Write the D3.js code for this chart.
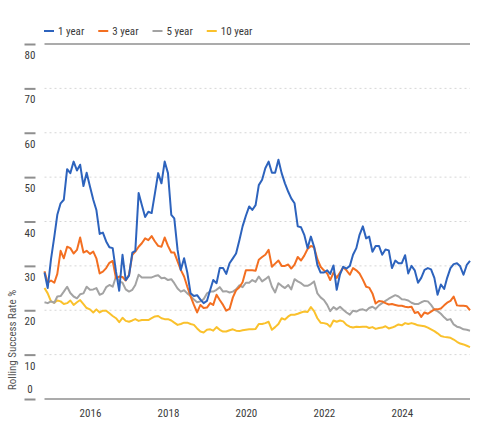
<!DOCTYPE html>
<html>
<head>
<meta charset="utf-8">
<script src="https://cdn.jsdelivr.net/npm/d3@7"></script>
<style>
    body { margin: 0; background: #fff; }
    svg text { font-family: "Liberation Sans Narrow", "Roboto Condensed", "DejaVu Sans Condensed", sans-serif; font-size: 11px; fill: #3a3a3a; }
</style>
</head>
<body>
<svg id="chart"></svg>
<script>
// monthly observations, first one is Nov 2014
const startMonth = new Date(2014, 10, 1);

const seriesNames = ["1 year", "3 year", "5 year", "10 year"];
const seriesColors = ["#2d63bd", "#f36f21", "#a3a3a3", "#fac12c"];

const oneYear = [
    28.5, 25.0, 31.5, 36.6, 41.5, 44.1, 44.9, 51.8, 50.9, 53.5,
    51.5, 52.8, 48.0, 51.0, 47.9, 44.9, 42.6, 37.2, 37.5, 35.5,
    34.2, 34.0, 28.7, 24.4, 32.5, 26.8, 27.8, 33.0, 33.4, 46.4,
    43.7, 41.0, 42.2, 41.9, 46.4, 50.9, 48.6, 53.5, 50.9, 41.5,
    40.7, 33.6, 29.1, 31.7, 28.5, 23.8, 23.2, 23.4, 22.4, 21.6,
    22.1, 24.6, 26.8, 26.1, 29.5, 29.5, 28.2, 30.6, 31.7, 32.8,
    35.8, 38.9, 41.3, 43.4, 42.6, 43.7, 48.2, 49.4, 52.0, 53.5,
    51.0, 51.0, 53.9, 50.9, 48.6, 46.7, 45.2, 44.1, 38.9, 38.7,
    37.0, 34.0, 36.6, 34.3, 30.2, 28.5, 28.5, 29.0, 28.2, 30.1,
    24.6, 28.1, 29.8, 29.4, 30.0, 32.5, 34.0, 37.0, 38.9, 36.2,
    36.6, 33.2, 34.5, 34.5, 32.5, 33.7, 33.5, 29.5, 31.2, 30.6,
    30.6, 32.4, 28.3, 30.0, 29.0, 26.2, 27.3, 29.1, 29.5, 29.2,
    27.3, 23.5, 25.8, 24.8, 27.3, 29.5, 30.4, 30.6, 29.9, 28.0,
    30.2, 31.1
];

const threeYear = [
    28.8, 26.2, 26.7, 26.2, 28.2, 33.4, 31.7, 34.3, 34.0, 32.8,
    33.6, 36.4, 33.0, 33.4, 32.7, 33.2, 31.7, 28.3, 28.7, 29.5,
    30.7, 31.1, 27.2, 27.6, 27.5, 26.7, 28.0, 32.5, 33.2, 34.3,
    35.1, 36.2, 35.8, 36.7, 35.5, 34.5, 34.3, 36.4, 34.5, 33.0,
    33.0, 31.0, 29.1, 27.6, 25.3, 23.1, 21.2, 19.5, 21.2, 20.5,
    20.6, 21.6, 21.2, 23.5, 22.3, 21.2, 19.9, 20.3, 22.9, 24.5,
    25.2, 26.3, 29.0, 29.0, 29.0, 28.9, 31.4, 32.0, 32.5, 33.6,
    29.8, 30.5, 31.2, 30.0, 30.0, 30.3, 29.4, 30.3, 32.0, 31.2,
    32.3, 33.8, 34.5, 34.2, 31.5, 29.8, 29.0, 28.3, 26.8, 28.5,
    27.3, 28.5, 29.7, 29.0, 28.0, 29.5, 29.0, 28.3, 26.9, 25.3,
    25.1, 23.8, 21.5, 22.1, 22.0, 21.6, 21.3, 21.4, 21.2, 21.0,
    21.0, 20.8, 20.7, 20.8, 19.4, 19.6, 18.5, 19.5, 19.2, 19.7,
    20.2, 20.2, 20.4, 21.1, 21.7, 22.1, 23.1, 21.1, 21.0, 21.0,
    20.9, 20.0
];

const fiveYear = [
    21.8, 21.6, 22.0, 21.7, 23.1, 23.2, 24.2, 25.3, 23.9, 23.1,
    22.7, 23.6, 23.8, 25.3, 24.6, 24.7, 25.0, 23.5, 23.8, 25.2,
    25.7, 25.3, 27.6, 26.5, 26.2, 24.7, 24.2, 24.6, 25.7, 28.0,
    27.4, 27.4, 27.4, 27.4, 27.7, 27.9, 27.2, 27.3, 26.8, 27.0,
    26.1, 24.9, 24.2, 24.5, 23.8, 23.2, 22.4, 21.8, 22.0, 22.5,
    23.8, 24.2, 24.2, 24.6, 25.2, 24.2, 24.3, 24.0, 24.2, 24.7,
    25.6, 25.2, 26.2, 26.2, 26.8, 26.4, 27.6, 26.5, 27.0, 27.6,
    25.3, 24.0, 26.1, 25.5, 25.0, 25.7, 24.7, 27.0, 26.5, 26.1,
    25.5, 25.5, 25.9, 26.5, 23.8, 22.9, 22.3, 21.2, 19.8, 20.7,
    20.2, 20.8, 20.1, 19.5, 19.0, 19.9, 19.7, 20.1, 20.2, 19.9,
    20.5, 20.8, 20.3, 21.1, 21.6, 22.1, 22.6, 23.0, 23.4, 23.1,
    22.5, 22.4, 22.2, 21.7, 21.4, 21.4, 21.8, 22.1, 22.0, 21.2,
    20.1, 19.8, 19.2, 18.4, 17.8, 18.0, 16.8, 16.3, 16.1, 15.7,
    15.6, 15.4
];

const tenYear = [
    25.0, 23.8, 22.0, 21.7, 22.2, 22.0, 21.4, 21.6, 22.2, 21.2,
    21.8, 22.3, 21.4, 20.5, 20.2, 19.5, 20.2, 19.5, 19.9, 19.9,
    19.3, 18.7, 18.2, 17.3, 18.3, 17.6, 17.4, 17.7, 18.0, 17.6,
    17.8, 17.8, 17.8, 18.2, 18.6, 18.7, 18.2, 18.0, 18.0, 17.7,
    17.2, 16.7, 16.9, 17.2, 17.2, 16.9, 16.7, 15.9, 15.2, 15.0,
    15.6, 15.7, 15.4, 16.2, 15.6, 15.2, 15.2, 15.5, 15.7, 15.4,
    15.3, 15.5, 15.6, 15.7, 15.7, 15.8, 16.9, 16.9, 17.1, 17.4,
    15.6, 16.2, 16.9, 18.2, 17.9, 18.6, 19.0, 19.0, 19.2, 19.5,
    19.7, 19.6, 20.7, 19.8, 18.2, 17.2, 17.1, 16.9, 16.3, 17.7,
    17.4, 17.7, 17.5, 16.7, 16.3, 16.1, 16.3, 16.2, 16.3, 16.3,
    16.0, 16.2, 15.8, 16.0, 16.1, 16.4, 15.9, 16.1, 16.4, 16.8,
    16.6, 17.1, 16.9, 17.1, 16.9, 16.6, 16.5, 16.4, 16.1, 15.7,
    15.3, 14.8, 14.2, 14.0, 13.9, 13.8, 13.4, 12.9, 12.5, 12.3,
    12.0, 11.7
];

const yTicks = [0, 10, 20, 30, 40, 50, 60, 70, 80];
const xTickYears = [2016, 2018, 2020, 2022, 2024];
const yTitle = "Rolling Success Rate %";

class RollingChart {
    margin = { top: 44, right: 30, bottom: 31, left: 44.5 }

    constructor(svg, width = 500, height = 430) {
        this.svg = d3.select(svg);
        this.width = width;
        this.height = height;
    }

    initialize() {
        this.svg.attr("width", this.width).attr("height", this.height);

        this.x0 = this.margin.left;
        this.x1 = this.width - this.margin.right;
        this.y0 = this.height - this.margin.bottom;
        this.y1 = this.margin.top;

        let series = [oneYear, threeYear, fiveYear, tenYear];
        this.data = series.map((vals, k) => ({
            name: seriesNames[k],
            color: seriesColors[k],
            values: vals.map((v, i) => ({ date: d3.timeMonth.offset(startMonth, i), value: v }))
        }));

        let lastDate = d3.timeMonth.offset(startMonth, oneYear.length - 1);
        this.xScale = d3.scaleTime().domain([startMonth, lastDate]).range([this.x0, this.x1]);
        this.yScale = d3.scaleLinear().domain([0, 80]).range([this.y0, this.y1]);
    }

    drawAxes() {
        // dotted gridlines
        this.svg.append("g")
            .selectAll("line")
            .data(yTicks.filter(d => d > 0 && d < 80))
            .join("line")
            .attr("x1", this.x0).attr("x2", this.x1)
            .attr("y1", d => this.yScale(d)).attr("y2", d => this.yScale(d))
            .attr("stroke", "#d6d6d6")
            .attr("stroke-width", 1)
            .attr("stroke-dasharray", "2,3");

        // solid top + bottom rules
        this.svg.append("g")
            .selectAll("line")
            .data([0, 80])
            .join("line")
            .attr("x1", this.x0).attr("x2", this.x1)
            .attr("y1", d => this.yScale(d)).attr("y2", d => this.yScale(d))
            .attr("stroke", "#8f8f8f")
            .attr("stroke-width", 1.5);

        // y axis: short marks with the label under each mark (0 sits above)
        let yAxis = d3.axisLeft(this.yScale).tickValues(yTicks).tickSize(11).tickPadding(0);
        let yg = this.svg.append("g")
            .attr("transform", `translate(${this.x0 - 9}, 0)`)
            .call(yAxis);
        yg.select(".domain").remove();
        yg.selectAll(".tick line").attr("stroke", "#8f8f8f").attr("stroke-width", 2);
        yg.selectAll(".tick text")
            .attr("x", -5.5)
            .attr("text-anchor", "middle")
            .attr("dy", d => d === 0 ? "-6.5px" : "14.5px");

        let xg = this.svg.append("g")
            .attr("transform", `translate(0, ${this.y0})`)
            .call(d3.axisBottom(this.xScale)
                .tickValues(xTickYears.map(y => new Date(y, 0, 1)))
                .tickFormat(d3.timeFormat("%Y"))
                .tickSize(0)
                .tickPadding(10));
        xg.select(".domain").remove();

        this.svg.append("text")
            .attr("transform", `translate(16, ${this.y0 - 9}) rotate(-90)`)
            .attr("text-anchor", "start")
            .attr("fill", "#555")
            .style("fill", "#555")
            .text(yTitle);
    }

    drawLines() {
        let line = d3.line()
            .x(d => this.xScale(d.date))
            .y(d => this.yScale(d.value));

        // 10 year is at the back, 1 year in front
        this.svg.append("g")
            .selectAll("path")
            .data(this.data.slice().reverse())
            .join("path")
            .attr("d", d => line(d.values))
            .attr("fill", "none")
            .attr("stroke", d => d.color)
            .attr("stroke-width", 2)
            .attr("stroke-linejoin", "round");
    }

    drawLegend() {
        let legend = this.svg.append("g").attr("transform", "translate(44, 31)");
        let cursor = 0;
        this.data.forEach(s => {
            let item = legend.append("g").attr("transform", `translate(${cursor}, 0)`);
            item.append("line")
                .attr("x1", 0).attr("x2", 10)
                .attr("stroke", s.color)
                .attr("stroke-width", 2);
            let label = item.append("text")
                .attr("x", 14)
                .attr("dy", "0.35em")
                .text(s.name);
            cursor += 14 + label.node().getComputedTextLength() + 14;
        });
    }
}

let chart = new RollingChart(document.getElementById("chart"));
chart.initialize();
chart.drawAxes();
chart.drawLines();
chart.drawLegend();
</script>
</body>
</html>
